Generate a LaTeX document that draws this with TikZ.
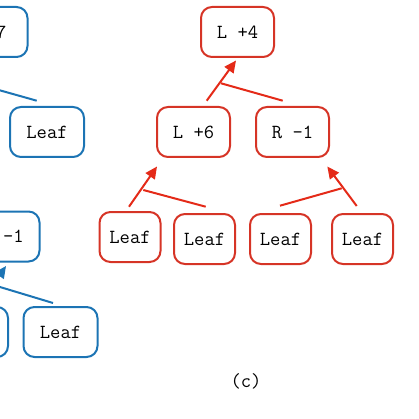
\documentclass[tikz,border=0pt]{standalone}
\usepackage{fontspec}
\usetikzlibrary{arrows.meta}
\definecolor{rbox}{RGB}{214,52,38}
\definecolor{rarr}{RGB}{228,42,24}
\definecolor{bbox}{RGB}{28,116,180}
\tikzset{
  box/.style={draw, line width=2pt, rounded corners=11pt, minimum height=50pt, inner sep=0pt, font=\ttfamily\fontsize{20}{24}\selectfont},
  redbox/.style={box, draw=rbox, minimum width=73pt},
  redleaf/.style={box, draw=rbox, minimum width=61pt},
  bluebox/.style={box, draw=bbox, minimum width=74pt},
  redarr/.style={draw=rarr, line width=2pt, -{Triangle[length=12pt,width=11pt]}},
  redln/.style={draw=rarr, line width=2pt},
  bluearr/.style={draw=bbox, line width=2pt, -{Triangle[length=12pt,width=11pt]}},
  blueln/.style={draw=bbox, line width=2pt},
  captxt/.style={font=\ttfamily\fontsize{20}{24}\selectfont}
}
\begin{document}
\begin{tikzpicture}[x=1pt,y=-1pt]
\useasboundingbox (0,0) rectangle (419,419);
% red tree
\node[redbox] (r0) at (237.5,32) {L +4};
\node[redbox] (r1) at (193.5,132) {L +6};
\node[redbox] (r2) at (292.5,132) {R -1};
\node[redleaf] (l1) at (130,237) {Leaf};
\node[redleaf] (l2) at (204.5,239) {Leaf};
\node[redleaf] (l3) at (280.5,239) {Leaf};
\node[redleaf] (l4) at (362.5,239) {Leaf};
\coordinate (a0s) at (206.7,100.7);
\coordinate (a0t) at (236,60.5);
\coordinate (j0) at (221,83.3);
\coordinate (b0) at (282.7,100.7);
\draw[redarr] (a0s) -- (a0t);
\draw[redln] (b0) -- (j0);
\coordinate (a1s) at (129,206.7);
\coordinate (a1t) at (157,166.5);
\coordinate (j1) at (143.3,190);
\coordinate (b1) at (205.7,206.7);
\draw[redarr] (a1s) -- (a1t);
\draw[redln] (b1) -- (j1);
\coordinate (a2s) at (356.7,206);
\coordinate (a2t) at (327.3,166.5);
\coordinate (j2) at (341.7,188.3);
\coordinate (b2) at (280,205.7);
\draw[redarr] (a2s) -- (a2t);
\draw[redln] (b2) -- (j2);
% blue tree (cut off)
\node[bluebox, minimum width=73pt] (t0) at (-9,32) {\phantom{LL}7};
\node[bluebox] (t1) at (47,132) {Leaf};
\node[bluebox, minimum width=73pt] (t2) at (3,236.5) {\phantom{RR}-1};
\node[bluebox] (t3) at (-29,332) {};
\node[bluebox] (t4) at (60.5,332) {Leaf};
\coordinate (c0) at (36.7,100.7);
\coordinate (k0) at (-12,87);
\draw[blueln] (c0) -- (k0);
\coordinate (a3s) at (-22,306);
\coordinate (a3t) at (6,266);
\coordinate (c1) at (53,303);
\coordinate (k1) at (-10,284);
\draw[bluearr] (a3s) -- (a3t);
\draw[blueln] (c1) -- (k1);
% captions
\node[captxt] (capc) at (246,381) {(c)};
\node[captxt, font=\ttfamily\bfseries\fontsize{20}{24}\selectfont, anchor=east] (capb) at (4,381) {(b)};
\end{tikzpicture}
\end{document}
